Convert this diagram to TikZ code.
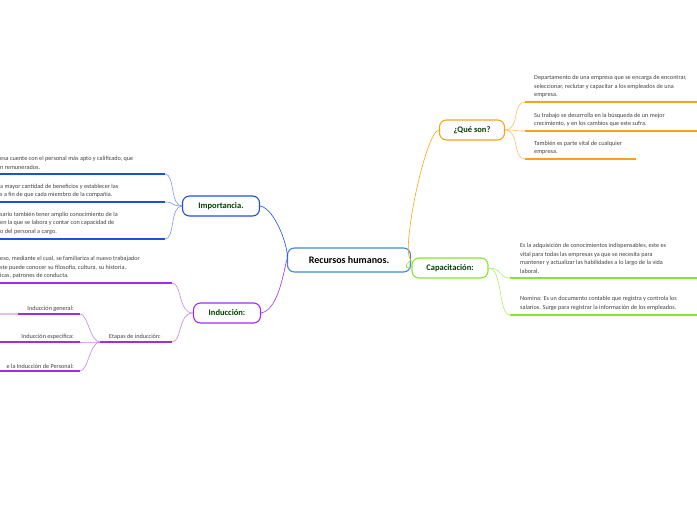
\documentclass[tikz,border=0pt]{standalone}
\usepackage{fontspec}
\setmainfont{Carlito}
\begin{document}
\begin{tikzpicture}[x=1pt,y=-1pt,
  txt/.style={anchor=south west,inner sep=0pt,align=left,font=\fontsize{6.2}{8.8}\selectfont,text=black!75},
  topic/.style={draw,rounded corners=7pt,line width=1.1pt,minimum height=20pt,inner xsep=9pt,font=\fontsize{8.5}{10}\selectfont\bfseries,text=green!25!black},
  lf/.style={line width=1.3pt},
  cn/.style={line width=0.6pt}]
\useasboundingbox (0,0) rectangle (697,520);
\clip (0,0) rectangle (697,520);
\definecolor{cblue}{HTML}{3F88D8}
\definecolor{ib}{HTML}{1F4FE0}
\definecolor{org}{HTML}{F7A21B}
\definecolor{pur}{HTML}{A22CE6}
\definecolor{grn}{HTML}{86E62C}
\node[topic,draw=cblue,minimum height=24pt,minimum width=123pt,font=\fontsize{10}{12}\selectfont\bfseries,text=black] (c) at (349,260) {Recursos humanos.};
\node[topic,draw=org,minimum width=65pt] (q) at (472,130) {¿Qué son?};
\node[topic,draw=ib,minimum width=77pt] (im) at (221,206) {Importancia.};
\node[topic,draw=pur,minimum width=67pt] (in) at (227,313) {Inducción:};
\node[topic,draw=grn,minimum width=76pt] (ca) at (450,268) {Capacitación:};
% central connectors
\draw[cn,org] (c.east) .. controls (400,255) and (425,132) .. (q.west);
\draw[cn,ib] (c.west) .. controls (290,250) and (275,208) .. (im.east);
\draw[cn,pur] (c.west) .. controls (285,262) and (280,310) .. (in.east);
\draw[cn,grn] (c.east) .. controls (410,262) and (400,268) .. (ca.west);
% Que son
\coordinate (q1a) at (525,102); \coordinate (q1b) at (697,102);
\coordinate (q2a) at (525,131); \coordinate (q2b) at (697,131);
\coordinate (q3a) at (525,159); \coordinate (q3b) at (636,159);
\foreach \a/\b in {q1a/q1b,q2a/q2b,q3a/q3b}{
 \draw[lf,org] (\a) -- (\b);
 \draw[cn,org!70] (q.east) .. controls (520,130) and (512,0|-\a) .. (\a);}
\node[txt] at (534,98) {Departamento de una empresa que se encarga de encontrar,\\seleccionar, reclutar y capacitar a los empleados de una\\empresa.};
\node[txt] at (534,127) {Su trabajo se desarrolla en la búsqueda de un mejor\\crecimiento, y en los cambios que este sufra.};
\node[txt] at (534,155) {También es parte vital de cualquier\\empresa.};
% Importancia
\coordinate (i1a) at (165,174); \coordinate (i1b) at (0,174);
\coordinate (i2a) at (165,202); \coordinate (i2b) at (0,202);
\coordinate (i3a) at (165,239); \coordinate (i3b) at (0,239);
\foreach \a/\b in {i1a/i1b,i2a/i2b,i3a/i3b}{
 \draw[lf,ib] (\a) -- (\b);
 \draw[cn,ib!60] (im.west) .. controls (170,206) and (175,0|-\a) .. (\a);}
\node[txt] at (0,170) {esa cuente con el personal más apto y calificado, que\\n remunerados.};
\node[txt] at (0,198) {a mayor cantidad de beneficios y establecer las\\s a fin de que cada miembro de la compañía.};
\node[txt] at (0,235) {sario también tener amplio conocimiento de la\\ en la que se labora y contar con capacidad de\\o del personal a cargo.};
% Induccion
\coordinate (n1a) at (172,283); \coordinate (n1b) at (0,283);
\coordinate (e) at (172,342); \coordinate (eb) at (100,342);
\draw[lf,pur] (n1a) -- (n1b);
\draw[lf,pur] (e) -- (eb);
\draw[cn,pur!60] (in.west) .. controls (178,313) and (182,283) .. (n1a);
\draw[cn,pur!60] (in.west) .. controls (178,313) and (182,342) .. (e);
\node[txt] at (0,279) {eso, mediante el cual, se familiariza al nuevo trabajador\\ste puede conocer su filosofía, cultura, su historia,\\icas, patrones de conducta.};
\node[txt,anchor=south] at (135,340) {Etapas de inducción:};
\coordinate (s1) at (80,314); \coordinate (s2) at (80,342); \coordinate (s3) at (80,371);
\draw[lf,pur!30] (0,314) -- (18,314);
\draw[lf,pur] (18,314) -- (s1);
\draw[lf,pur] (0,342) -- (s2);
\draw[lf,pur] (0,371) -- (s3);
\foreach \s in {s1,s2,s3}
 \draw[cn,pur!60] (eb) .. controls (90,342) and (88,0|-\s) .. (\s);
\node[txt,anchor=south east] at (74,312) {Inducción general:};
\node[txt,anchor=south east] at (74,340) {Inducción especifica:};
\node[txt,anchor=south east] at (74,369) {e la Inducción de Personal:};
% Capacitacion
\coordinate (k1a) at (510,278); \coordinate (k1b) at (697,278);
\coordinate (k2a) at (510,315); \coordinate (k2b) at (697,315);
\foreach \a/\b in {k1a/k1b,k2a/k2b}{
 \draw[lf,grn] (\a) -- (\b);
 \draw[cn,grn!70] (ca.east) .. controls (503,268) and (498,0|-\a) .. (\a);}
\node[txt] at (520,274) {Es la adquisición de conocimientos indispensables, este es\\vital para todas las empresas ya que se necesita para\\mantener y actualizar las habilidades a lo largo de la vida\\laboral.};
\node[txt] at (520,311) {Nomina: Es un documento contable que registra y controla los\\salarios. Surge para registrar la información de los empleados.};
\end{tikzpicture}
\end{document}
